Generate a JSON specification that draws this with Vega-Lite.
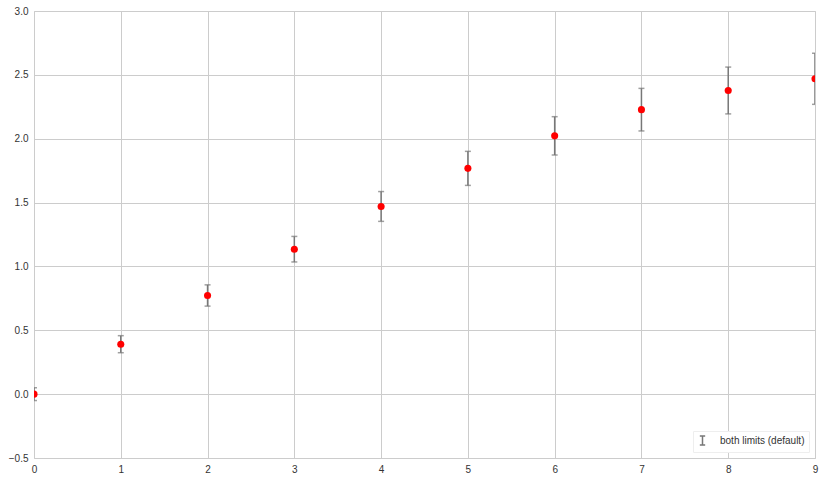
{
  "$schema": "https://vega.github.io/schema/vega-lite/v6.json",
  "width": 781,
  "height": 447,
  "autosize": "none",
  "padding": {"left": 34, "top": 11, "right": 10, "bottom": 24},
  "background": "white",
  "config": {
    "view": {"stroke": "#cccccc", "strokeWidth": 1},
    "font": "Liberation Sans",
    "axis": {
      "grid": true,
      "gridColor": "#cccccc",
      "gridWidth": 1,
      "domain": false,
      "ticks": false,
      "labelColor": "#333333",
      "labelFontSize": 10,
      "labelPadding": 6,
      "labelFlush": false,
      "labelOverlap": false,
      "title": null
    }
  },
  "data": {
    "values": [
      {"x": 0, "y": 0.0, "lo": -0.05, "hi": 0.05, "series": "both limits (default)"},
      {"x": 1, "y": 0.3911, "lo": 0.3244, "hi": 0.4578, "series": "both limits (default)"},
      {"x": 2, "y": 0.7725, "lo": 0.6892, "hi": 0.8558, "series": "both limits (default)"},
      {"x": 3, "y": 1.1350, "lo": 1.0350, "hi": 1.2350, "series": "both limits (default)"},
      {"x": 4, "y": 1.4695, "lo": 1.3528, "hi": 1.5862, "series": "both limits (default)"},
      {"x": 5, "y": 1.7678, "lo": 1.6345, "hi": 1.9011, "series": "both limits (default)"},
      {"x": 6, "y": 2.0225, "lo": 1.8725, "hi": 2.1725, "series": "both limits (default)"},
      {"x": 7, "y": 2.2275, "lo": 2.0608, "hi": 2.3942, "series": "both limits (default)"},
      {"x": 8, "y": 2.3776, "lo": 2.1943, "hi": 2.5609, "series": "both limits (default)"},
      {"x": 9, "y": 2.4692, "lo": 2.2692, "hi": 2.6692, "series": "both limits (default)"}
    ]
  },
  "encoding": {
    "x": {
      "field": "x",
      "type": "quantitative",
      "scale": {"domain": [0, 9], "nice": false, "zero": false},
      "axis": {"values": [0,1,2,3,4,5,6,7,8,9], "format": "d"}
    }
  },
  "layer": [
    {
      "mark": {"type": "rule", "clip": true, "strokeWidth": 1.5},
      "encoding": {
        "y": {
          "field": "lo",
          "type": "quantitative",
          "scale": {"domain": [-0.5, 3.0], "nice": false, "zero": false},
          "axis": {"values": [-0.5, 0, 0.5, 1, 1.5, 2, 2.5, 3], "format": ".1f"}
        },
        "y2": {"field": "hi"},
        "color": {
          "field": "series",
          "type": "nominal",
          "scale": {"range": ["#777777"]},
          "legend": {
            "title": null,
            "orient": "bottom-right",
            "offset": 6,
            "symbolType": "M-0.6,-1H0.6M0,-1V1M-0.6,1H0.6",
            "symbolStrokeWidth": 1.5,
            "symbolSize": 80,
            "symbolFillColor": "transparent",
            "labelFontSize": 10,
            "labelColor": "#333333",
            "labelOffset": 12,
            "fillColor": "white",
            "strokeColor": "#eeeeee",
            "padding": 4
          }
        }
      }
    },
    {
      "mark": {"type": "tick", "clip": true, "orient": "horizontal", "size": 6, "thickness": 1.5, "color": "#777777"},
      "encoding": {"y": {"field": "lo", "type": "quantitative"}}
    },
    {
      "mark": {"type": "tick", "clip": true, "orient": "horizontal", "size": 6, "thickness": 1.5, "color": "#777777"},
      "encoding": {"y": {"field": "hi", "type": "quantitative"}}
    },
    {
      "mark": {"type": "point", "clip": true, "filled": true, "shape": "circle", "size": 50, "color": "red", "opacity": 1},
      "encoding": {"y": {"field": "y", "type": "quantitative"}}
    }
  ]
}
